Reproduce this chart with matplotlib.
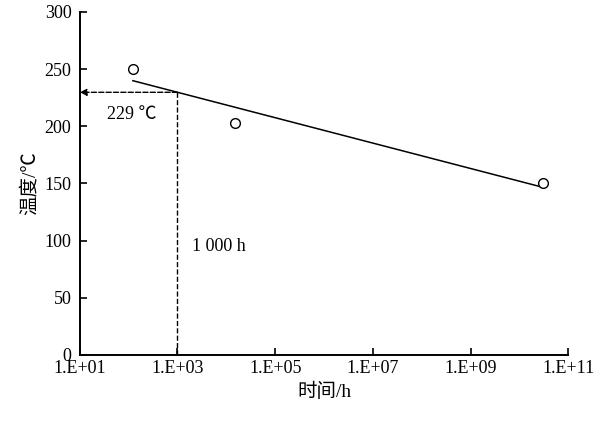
import numpy as np
import matplotlib
matplotlib.use("Agg")
import matplotlib.pyplot as plt

plt.rcParams["font.family"] = ["Liberation Serif", "Noto Sans CJK SC"]

hours = [122, 15000, 3.0e10]
temps = [250, 203, 150]
xticks = [1e1, 1e3, 1e5, 1e7, 1e9, 1e11]
xlabels = ["1.E+01", "1.E+03", "1.E+05", "1.E+07", "1.E+09", "1.E+11"]
t_design = 1000

b, a = np.polyfit(np.log10(hours), temps, 1)
t_at = a + b * np.log10(t_design)

fig = plt.figure(figsize=(6, 4.23), dpi=100)
ax = fig.add_axes([0.133, 0.161, 0.814, 0.811])

xs = np.array([hours[0], hours[-1]])
ax.plot(xs, a + b * np.log10(xs), color="black", lw=1.1)
ax.plot(hours, temps, "o", mfc="white", mec="black", ms=7, mew=1)

ax.plot([t_design, t_design], [0, t_at], "k--", lw=1)
ax.annotate("", xy=(10, t_at), xytext=(t_design, t_at),
            arrowprops=dict(arrowstyle="-|>", ls="--", color="black", lw=1,
                            shrinkA=0, shrinkB=0))
ax.text(36, t_at - 12, "229 ℃", fontsize=13, va="top")
ax.text(2000, 95, "1 000 h", fontsize=13, va="center")

ax.set_xscale("log")
ax.set_xlim(10, 1e11)
ax.set_ylim(0, 300)
ax.set_xticks(xticks)
ax.set_xticklabels(xlabels, fontsize=13)
ax.minorticks_off()
ax.set_yticks(range(0, 301, 50))
ax.tick_params(axis="both", direction="in", length=5, width=1.2, labelsize=13)
ax.tick_params(axis="x", pad=4)
ax.tick_params(axis="y", pad=6)
for side in ["left", "bottom"]:
    ax.spines[side].set_linewidth(1.4)
ax.spines["top"].set_visible(False)
ax.spines["right"].set_visible(False)
ax.set_xlabel("时间/h", fontsize=14)
ax.set_ylabel("温度/℃", fontsize=14)

fig.savefig("out.png", dpi=100)
